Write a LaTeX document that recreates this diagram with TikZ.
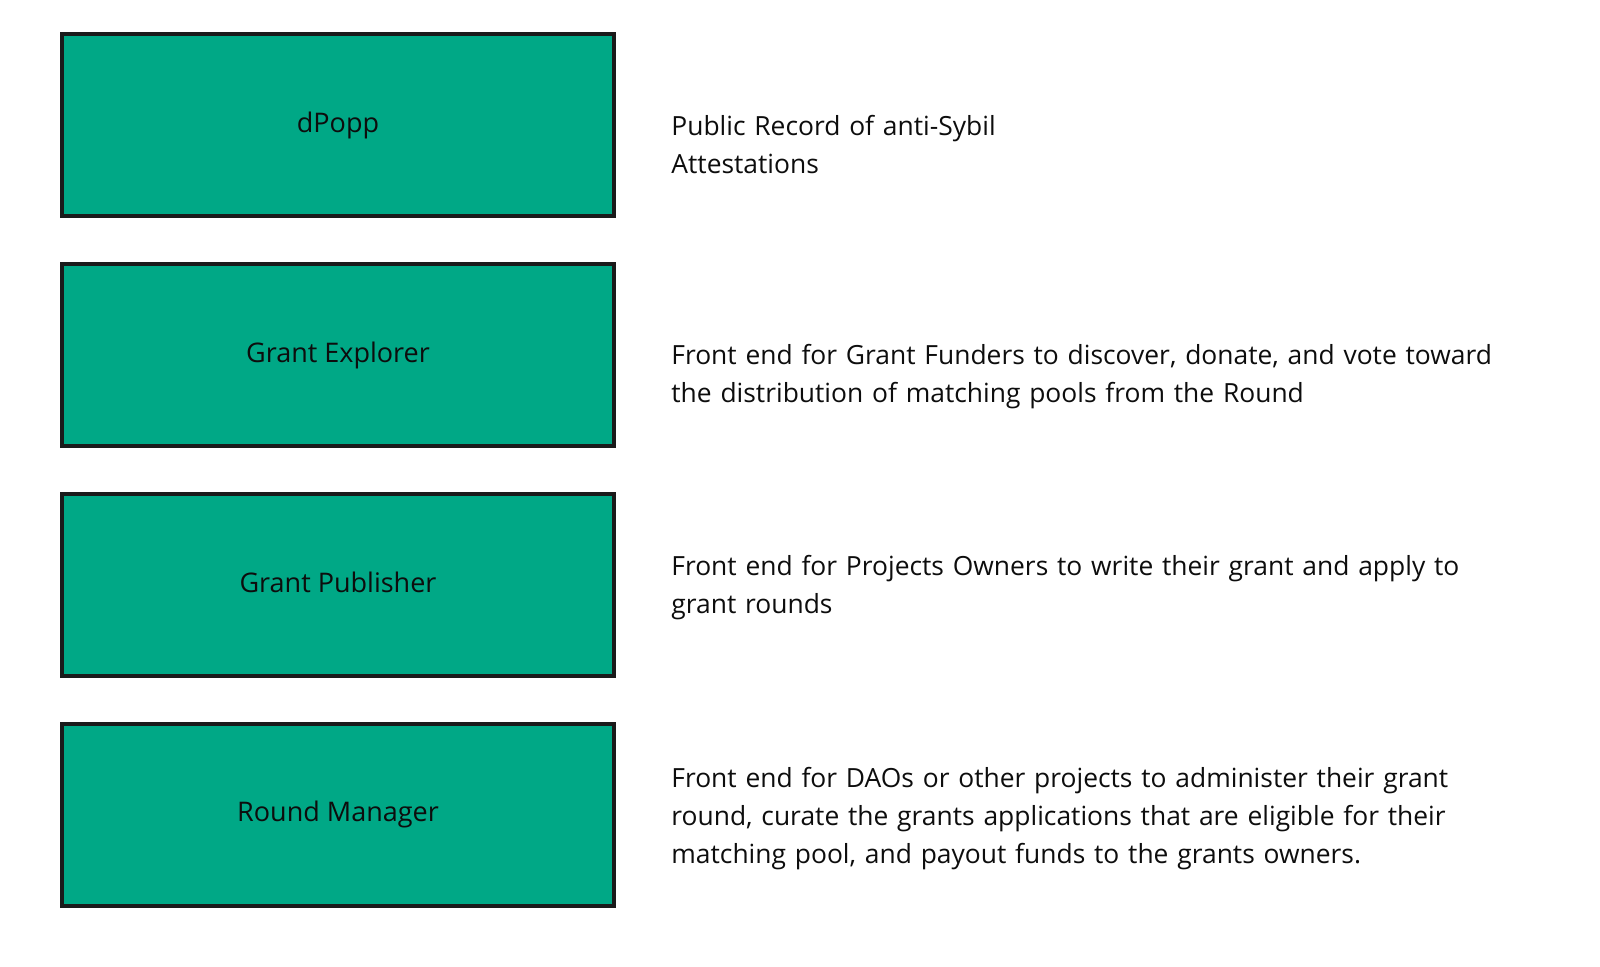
\documentclass[tikz,border=0pt]{standalone}
\usepackage{fontspec}
\setmainfont{Open Sans}
\usetikzlibrary{positioning}
\definecolor{gitcoingreen}{RGB}{0,168,134}
\definecolor{boxline}{RGB}{26,26,26}
\tikzset{
  appbox/.style={draw=boxline, fill=gitcoingreen, line width=2pt,
    minimum width=276pt, minimum height=91pt, inner sep=0pt,
    text height=9.5pt, text depth=2.5pt, text=black!95,
    font=\fontsize{13.5pt}{19pt}\selectfont},
  appdesc/.style={anchor=base west, inner sep=0pt, text width=460pt,
    align=left, text=black!95,
    font=\fontsize{13.2pt}{19pt}\selectfont}
}
\def\component#1#2#3#4#5{
  % 1: name
  % 2: y of box centre
  % 3: box label
  % 4: y of first baseline
  % 5: description
  \node[appbox] (#1) at (338,#2) {#3};
  \node[appdesc] (#1-desc) at (671,#4) {#5};
}

\begin{document}
\begin{tikzpicture}[x=0.5pt,y=-0.5pt]
    \useasboundingbox (0,0) rectangle (1600,966);
    % \component{name}{y}{label}{baseline}{text}
    \component{dpopp}{125}{dPopp}{135}{Public Record of anti-Sybil\\Attestations}
    \component{explorer}{355}{Grant Explorer}{364}{Front end for Grant Funders to discover, donate, and vote toward\\the distribution of matching pools from the Round}
    \component{publisher}{585}{Grant Publisher}{575}{Front end for Projects Owners to write their grant and apply to\\grant rounds}
    \component{manager}{814.5}{Round Manager}{787}{Front end for DAOs or other projects to administer their grant\\round, curate the grants applications that are eligible for their\\matching pool, and payout funds to the grants owners.}
\end{tikzpicture}
\end{document}
